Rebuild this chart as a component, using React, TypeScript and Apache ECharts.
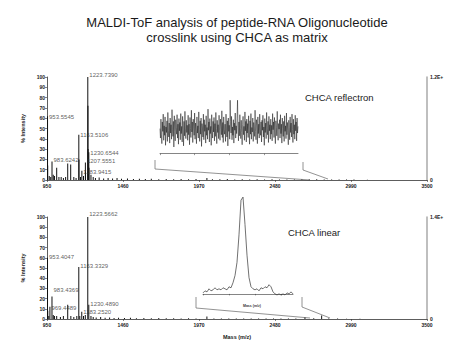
import React, { useEffect, useRef } from "react";
import * as echarts from "echarts";

const titleText = "MALDI-ToF analysis of peptide-RNA Oligonucleotide\ncrosslink using CHCA as matrix";
const xTickValues = [950, 1460, 1970, 2480, 2990, 3500];
const massMin = 950;
const massMax = 3500;

// Reflectron spectrum (top): [m/z, % intensity]
const reflectronPeaks: [number, number][] = [
  [953.55, 62], [954.6, 14], [965, 4], [975, 3], [983.62, 18], [992, 5], [1000, 4], [1015, 12],
  [1030, 3], [1045, 3], [1060, 2], [1075, 3], [1089, 16], [1109, 15], [1130, 3], [1145, 2],
  [1163.51, 44], [1164.5, 20], [1175, 3], [1183.94, 9], [1195, 4], [1207.56, 17], [1208.5, 8],
  [1223.74, 100], [1224.74, 72], [1225.7, 30], [1230.65, 27], [1231.6, 12], [1245, 5], [1260, 3],
];
const reflectronNoise: [number, number][] = [
  [1275, 2], [1300, 2.5], [1330, 1.5], [1360, 2], [1390, 1.5], [1420, 2], [1450, 1.2], [1490, 1.5],
  [1530, 1], [1570, 1.3], [1610, 1], [1650, 1.2], [1700, 0.8], [1750, 1], [1800, 0.8], [1850, 1],
  [1900, 0.7], [1950, 0.9], [2023, 2], [2060, 0.8], [2110, 0.7], [2160, 0.9], [2210, 0.6], [2260, 0.8],
  [2310, 0.6], [2360, 0.7], [2410, 0.5], [2460, 0.7], [2510, 0.5], [2560, 0.6], [2610, 0.5], [2660, 0.6],
  [2710, 0.5], [2760, 0.7], [2810, 0.5], [2860, 0.4], [2910, 0.5], [2960, 0.4], [3010, 0.4], [3100, 0.3],
];
const reflectronLabels: [number, number][] = [
  [953.5545, 61], [983.6242, 19], [1163.5106, 44], [1223.739, 102], [1230.6544, 26.5], [1207.5551, 18], [1183.9415, 8],
];

// Linear spectrum (bottom)
const linearPeaks: [number, number][] = [
  [953.4, 60], [955, 8], [962, 3], [969.45, 12], [983.44, 22], [992, 4], [1000, 3], [1015, 3],
  [1040, 2], [1060, 3], [1089, 14], [1110, 3], [1130, 2], [1150, 3], [1163.33, 51], [1170, 3],
  [1183.25, 7], [1195, 3], [1207, 4], [1223.57, 100], [1230.49, 14], [1245, 3], [1260, 2],
];
const linearNoise: [number, number][] = [
  [1280, 1.5], [1310, 2], [1340, 1.2], [1370, 1.5], [1400, 1], [1430, 1.3], [1470, 1], [1510, 1.2],
  [1550, 0.8], [1600, 1], [1650, 0.8], [1700, 0.9], [1750, 0.7], [1800, 0.8], [1850, 0.6], [1900, 0.7],
  [1950, 0.6], [2023, 2.5], [2070, 0.6], [2120, 0.5], [2170, 0.6], [2220, 0.5], [2270, 0.6], [2320, 0.5],
  [2370, 0.5], [2420, 0.4], [2470, 0.5], [2520, 0.4], [2570, 0.5], [2620, 0.6], [2681, 1.5], [2740, 0.8],
  [2793, 3.5], [2840, 0.6], [2900, 0.4], [2960, 0.3], [3050, 0.3],
];
const linearLabels: [number, number][] = [
  [953.4047, 61], [983.4369, 28], [969.4489, 11], [1163.3329, 52], [1223.5662, 103], [1230.489, 15], [1183.252, 7],
];

// Inset: reflectron noise region (dense noise band)
const reflectronInset: number[] = [
  45, 28, 62, 35, 18, 57, 40, 71, 24, 50, 33, 66, 15, 48, 38, 59, 22, 74, 42, 30,
  55, 19, 64, 37, 52, 26, 79, 44, 31, 58, 12, 68, 40, 23, 61, 47, 35, 70, 28, 53,
  17, 63, 41, 56, 25, 72, 36, 49, 21, 67, 43, 14, 58, 32, 76, 46, 27, 60, 38, 51,
  24, 69, 34, 53, 16, 65, 45, 29, 78, 39, 57, 20, 62, 48, 33, 73, 26, 55, 41, 18,
  66, 37, 50, 28, 75, 43, 22, 59, 35, 64, 13, 54, 46, 30, 71, 25, 61, 40, 52, 19,
  68, 33, 47, 26, 80, 42, 57, 21, 63, 36, 49, 15, 70, 44, 28, 58, 39, 65, 23, 54,
  31, 74, 45, 18, 60, 38, 52, 27, 69, 41, 24, 62, 48, 34, 77, 29, 56, 20, 66, 43,
  35, 53, 22, 71, 46, 30, 59, 14, 64, 40, 51, 26, 96, 58, 37, 67, 25, 48, 33, 61,
  19, 55, 42, 73, 28, 50, 36, 63, 96, 44, 23, 57, 32, 70, 45, 27, 60, 38, 16, 52,
  67, 34, 49, 24, 75, 41, 58, 21, 62, 37, 54, 29, 68, 43, 17, 59, 35, 72, 26, 47,
  39, 64, 22, 56, 46, 31, 78, 40, 25, 61, 50, 18, 66, 36, 53, 28, 71, 44, 33, 57,
  21, 60, 42, 69, 30, 48, 15, 63, 38, 55, 27, 74, 45, 34, 58, 20, 67, 41, 52, 26,
  62, 35, 51, 23, 72, 43, 57, 29, 65, 37, 18, 59, 47, 32, 76, 39, 24, 54, 44, 61,
  28, 70, 36, 53, 19, 64, 45, 31, 58, 22, 68, 40, 50, 27, 73, 34, 56, 42, 16, 60,
  47, 25, 66, 38, 55, 30, 71, 43, 20, 62, 35, 52, 26, 69, 41, 57, 23, 64, 37, 49,
];

// Inset: linear peak region
const linearInset: number[] = [
  1, 3, 2, 5, 3, 4, 6, 4, 5, 4, 6, 5, 4, 7, 6, 11, 18, 31, 58, 92, 95, 68, 38, 16, 7,
  5, 4, 5, 3, 6, 5, 7, 6, 9, 7, 2, 0, -1, 0, -1, 0, -1, 1, 0, 2, 0,
];

const FONT = "'Liberation Sans', Arial, sans-serif";

function mainXAxis(gridIndex: number, withName: boolean) {
  return {
    type: "value",
    gridIndex,
    min: massMin,
    max: massMax,
    name: withName ? "Mass (m/z)" : "",
    nameLocation: "middle",
    nameGap: 15,
    nameTextStyle: { fontSize: 5.5, fontWeight: "bold", color: "#222", fontFamily: FONT },
    axisLine: { show: true, lineStyle: { color: "#333", width: 0.8 } },
    axisTick: { show: true, customValues: xTickValues, length: 2, lineStyle: { color: "#333", width: 0.6 } },
    axisLabel: {
      customValues: xTickValues,
      fontSize: 5,
      fontWeight: "bold",
      color: "#222",
      margin: 3,
      fontFamily: FONT,
      formatter: (v: number) => String(v),
    },
    splitLine: { show: false },
  };
}

function leftYAxis(gridIndex: number) {
  return {
    type: "value",
    gridIndex,
    min: 0,
    max: 100,
    interval: 10,
    position: "left",
    name: "% Intensity",
    nameLocation: "middle",
    nameRotate: 90,
    nameGap: 12,
    nameTextStyle: { fontSize: 5.5, fontWeight: "bold", color: "#222", fontFamily: FONT },
    axisLine: { show: true, lineStyle: { color: "#333", width: 0.8 } },
    axisTick: { show: true, length: 2, lineStyle: { color: "#333", width: 0.6 } },
    axisLabel: { fontSize: 5, fontWeight: "bold", color: "#222", margin: 2, fontFamily: FONT },
    splitLine: { show: false },
  };
}

function rightYAxis(gridIndex: number, topLabel: string) {
  return {
    type: "value",
    gridIndex,
    min: 0,
    max: 100,
    interval: 100,
    position: "right",
    axisLine: { show: true, lineStyle: { color: "#aaa", width: 1.5 } },
    axisTick: { show: false },
    axisLabel: {
      fontSize: 5,
      fontWeight: "bold",
      color: "#222",
      margin: 3,
      fontFamily: FONT,
      formatter: (v: number) => (v === 100 ? topLabel : v === 0 ? "0" : ""),
    },
    splitLine: { show: false },
  };
}

function insetXAxis(gridIndex: number, n: number, tickEvery: number) {
  return {
    type: "category",
    gridIndex,
    boundaryGap: false,
    data: Array.from({ length: n }, (_, i) => String(i)),
    axisLine: { show: true, lineStyle: { color: "#333", width: 0.6 } },
    axisTick: { show: true, interval: tickEvery, length: 1.5, lineStyle: { color: "#333", width: 0.5 } },
    axisLabel: { show: false },
    splitLine: { show: false },
  };
}

function labelSeries(xAxisIndex: number, yAxisIndex: number, data: [number, number][]) {
  return {
    type: "scatter",
    xAxisIndex,
    yAxisIndex,
    data,
    clip: false,
    symbolSize: 1,
    itemStyle: { color: "rgba(0,0,0,0)" },
    silent: true,
    labelLayout: { hideOverlap: false },
    label: {
      show: true,
      position: "right",
      distance: 1,
      fontSize: 6,
      color: "#333",
      fontFamily: FONT,
      formatter: (p: any) => p.value[0].toFixed(4),
    },
  };
}

export default function App() {
  const ref = useRef<HTMLDivElement>(null);

  useEffect(() => {
    if (!ref.current) return;
    const chart = echarts.init(ref.current, undefined, { renderer: "svg" });
    const bracket = { stroke: "#777", lineWidth: 0.8, fill: null };
    chart.setOption({
      animation: false,
      backgroundColor: "#fff",
      title: {
        text: titleText,
        left: "center",
        top: 10,
        textStyle: { fontSize: 13, fontWeight: "normal", color: "#1a1a1a", lineHeight: 15, fontFamily: FONT },
      },
      grid: [
        { left: 47, top: 77, width: 380, height: 103 },
        { left: 47, top: 217, width: 380, height: 102 },
        { left: 160, top: 98, width: 138, height: 64 },
        { left: 203, top: 192, width: 90, height: 107 },
      ],
      xAxis: [
        mainXAxis(0, false),
        mainXAxis(1, true),
        insetXAxis(2, reflectronInset.length, 74),
        insetXAxis(3, linearInset.length, 12),
      ],
      yAxis: [
        leftYAxis(0),
        rightYAxis(0, "1.2E+"),
        leftYAxis(1),
        rightYAxis(1, "1.4E+"),
        { type: "value", gridIndex: 2, min: -15, max: 100, show: false },
        { type: "value", gridIndex: 3, min: -5, max: 100, show: false },
      ],
      series: [
        {
          type: "bar",
          xAxisIndex: 0,
          yAxisIndex: 0,
          data: [...reflectronPeaks, ...reflectronNoise],
          barWidth: 1,
          itemStyle: { color: "#111" },
          silent: true,
        },
        labelSeries(0, 0, reflectronLabels),
        {
          type: "bar",
          xAxisIndex: 1,
          yAxisIndex: 2,
          data: [...linearPeaks, ...linearNoise],
          barWidth: 1,
          itemStyle: { color: "#111" },
          silent: true,
        },
        labelSeries(1, 2, linearLabels),
        {
          type: "line",
          xAxisIndex: 2,
          yAxisIndex: 4,
          data: reflectronInset,
          symbol: "none",
          lineStyle: { color: "#111", width: 0.5 },
          silent: true,
        },
        {
          type: "line",
          xAxisIndex: 3,
          yAxisIndex: 5,
          data: linearInset,
          symbol: "none",
          lineStyle: { color: "#333", width: 0.7 },
          silent: true,
        },
      ],
      graphic: [
        { type: "polyline", shape: { points: [[155, 160], [155, 169], [310, 180]] }, style: bracket, silent: true },
        { type: "polyline", shape: { points: [[303, 162], [303, 170], [328, 179]] }, style: bracket, silent: true },
        { type: "polyline", shape: { points: [[196, 297], [196, 308], [310, 318]] }, style: bracket, silent: true },
        { type: "polyline", shape: { points: [[302, 297], [302, 307], [330, 318]] }, style: bracket, silent: true },
        {
          type: "text",
          left: 305,
          top: 92,
          style: { text: "CHCA reflectron", fontSize: 9.5, fill: "#1a1a1a", fontFamily: FONT },
          silent: true,
        },
        {
          type: "text",
          left: 288,
          top: 227,
          style: { text: "CHCA linear", fontSize: 9.5, fill: "#1a1a1a", fontFamily: FONT },
          silent: true,
        },
        {
          type: "text",
          left: 243,
          top: 304,
          style: { text: "Mass (m/z)", fontSize: 3.5, fontWeight: "bold", fill: "#333", fontFamily: FONT },
          silent: true,
        },
      ],
    });
    return () => chart.dispose();
  }, []);

  return (
    <div
      ref={ref}
      style={{ position: "fixed", left: 0, top: 0, width: 474, height: 355, background: "#fff" }}
    />
  );
}
